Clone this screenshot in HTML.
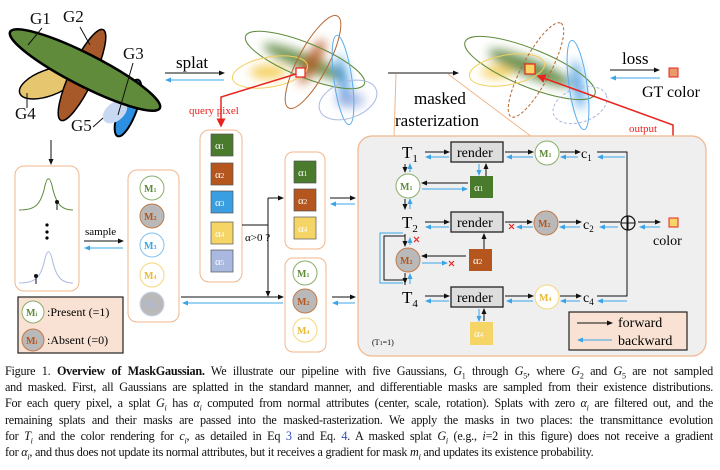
<!DOCTYPE html>
<html><head><meta charset="utf-8"><style>
body{margin:0;background:#fff;width:720px;height:470px;overflow:hidden}
.cap{position:absolute;left:5px;width:708px;font-family:"Liberation Serif",serif;font-size:12.2px;line-height:16.2px;color:#111;top:363px;letter-spacing:-0.25px}
.cap div{text-align:justify;text-align-last:justify;white-space:nowrap;height:16.2px}
.cap div.l{text-align-last:left}
</style></head><body>
<svg width="720" height="360" style="position:absolute;left:0;top:0" font-family="Liberation Serif, serif">
<defs>
<filter id="b" x="-50%" y="-50%" width="200%" height="200%"><feGaussianBlur stdDeviation="5"/></filter>
<marker id="ak" markerWidth="6" markerHeight="6" refX="5" refY="3" orient="auto"><path d="M0,0.5 L6,3 L0,5.5z" fill="#111"/></marker>
<marker id="ab" markerWidth="6" markerHeight="6" refX="5" refY="3" orient="auto"><path d="M0,0.5 L6,3 L0,5.5z" fill="#3aa4e8"/></marker>
<marker id="ar" markerWidth="6" markerHeight="6" refX="5" refY="3" orient="auto"><path d="M0,0 L6,3 L0,6z" fill="#e8231e"/></marker>
</defs>
<g>
<ellipse cx="128" cy="108" rx="30" ry="9" transform="rotate(-70 128 108)" fill="#2c8fe0" stroke="#000" stroke-width="2"/>
<ellipse cx="115" cy="112" rx="14" ry="9" transform="rotate(-40 115 112)" fill="#c8d8f3"/>
<ellipse cx="48" cy="83" rx="30" ry="13" transform="rotate(-20 48 83)" fill="#e6c66f" stroke="#000" stroke-width="1.5"/>
<ellipse cx="82" cy="75" rx="50" ry="12" transform="rotate(-65 82 75)" fill="#a8592a" stroke="#000" stroke-width="1.5"/>
<ellipse cx="85" cy="70" rx="84" ry="16" transform="rotate(27 85 70)" fill="#5f8b3b" stroke="#000" stroke-width="2.5"/>
</g>
<g font-size="17" fill="#111">
<text x="30" y="24">G1</text><text x="63" y="22">G2</text><text x="123" y="59">G3</text><text x="15" y="119">G4</text><text x="71" y="131">G5</text>
</g>
<g stroke="#111" stroke-width="1"><line x1="42" y1="28" x2="28" y2="45"/><line x1="80" y1="27" x2="90" y2="45"/><line x1="133" y1="63" x2="118" y2="115"/><line x1="27" y1="93" x2="27" y2="108"/><line x1="93" y1="127" x2="103" y2="118"/></g>
<text x="176" y="68" font-size="17">splat</text>
<line x1="165" y1="73" x2="224" y2="73" stroke="#111" marker-end="url(#ak)"/>
<line x1="224" y1="80" x2="166" y2="80" stroke="#3aa4e8" marker-end="url(#ab)"/>
<g filter="url(#b)">
<ellipse cx="305" cy="62" rx="45" ry="8" transform="rotate(22 305 62)" fill="#4d7a2c" opacity=".8"/>
<ellipse cx="268" cy="72" rx="18" ry="7" fill="#f3c63c" opacity=".8"/>
<ellipse cx="312" cy="62" rx="25" ry="7" transform="rotate(-62 312 62)" fill="#b5561f" opacity=".8"/>
<ellipse cx="343" cy="80" rx="25" ry="5" transform="rotate(80 343 80)" fill="#2c8fe0" opacity=".8"/>
<ellipse cx="350" cy="100" rx="15" ry="8" fill="#7f9ad8" opacity=".6"/>
</g>
<g fill="none" stroke-width="1">
<ellipse cx="305" cy="60" rx="64" ry="17" transform="rotate(22 305 60)" stroke="#5f8b3b"/>
<ellipse cx="270" cy="72" rx="38" ry="15" transform="rotate(-10 270 72)" stroke="#f2cf5e"/>
<ellipse cx="313" cy="62" rx="52" ry="15" transform="rotate(-62 313 62)" stroke="#b5662f"/>
<ellipse cx="343" cy="80" rx="45" ry="9" transform="rotate(82 343 80)" stroke="#5aacea"/>
<ellipse cx="348" cy="100" rx="30" ry="18" transform="rotate(-20 348 100)" stroke="#a9b8df"/>
</g>
<rect x="296" y="68" width="9" height="9" fill="#fff" stroke="#e8231e" stroke-width="1.2"/>
<polyline points="296,74 221,97 221,126" fill="none" stroke="#e8231e" stroke-width="1.5" marker-end="url(#ar)"/>
<text x="189" y="114" font-size="11" fill="#e8231e">query  pixel</text>
<line x1="396" y1="74" x2="394" y2="137" stroke="#f0b68b"/>
<line x1="448" y1="74" x2="532" y2="137" stroke="#f0b68b"/>
<line x1="388" y1="73" x2="458" y2="73" stroke="#111" marker-end="url(#ak)"/>
<g filter="url(#b)">
<ellipse cx="530" cy="68" rx="45" ry="9" transform="rotate(22 530 68)" fill="#4d7a2c" opacity=".8"/>
<ellipse cx="497" cy="72" rx="16" ry="6" fill="#f3c63c" opacity=".8"/>
<ellipse cx="578" cy="85" rx="25" ry="5" transform="rotate(82 578 85)" fill="#2c8fe0" opacity=".8"/>
</g>
<g fill="none" stroke-width="1">
<ellipse cx="530" cy="68" rx="70" ry="19" transform="rotate(22 530 68)" stroke="#5f8b3b"/>
<ellipse cx="507" cy="70" rx="38" ry="15" transform="rotate(-10 507 70)" stroke="#f2cf5e"/>
<ellipse cx="536" cy="70" rx="53" ry="14" transform="rotate(-62 536 70)" stroke="#b5662f" stroke-dasharray="3,2"/>
<ellipse cx="578" cy="85" rx="45" ry="9" transform="rotate(82 578 85)" stroke="#5aacea"/>
<ellipse cx="580" cy="105" rx="28" ry="17" transform="rotate(-20 580 105)" stroke="#a9b8df" stroke-dasharray="3,2"/>
</g>
<rect x="525" y="64" width="10" height="10" fill="#f5d566" stroke="#e8231e" stroke-width="1.2"/>
<polyline points="673,215 673,125 538,76" fill="none" stroke="#e8231e" stroke-width="1.5" marker-end="url(#ar)"/>
<text x="629" y="132" font-size="11" fill="#e8231e">output</text>
<text x="622" y="64" font-size="17">loss</text>
<line x1="610" y1="70" x2="659" y2="70" stroke="#111" marker-end="url(#ak)"/>
<line x1="660" y1="78" x2="611" y2="78" stroke="#3aa4e8" marker-end="url(#ab)"/>
<rect x="669" y="68" width="9" height="9" fill="#e89a6a" stroke="#e8231e"/>
<text x="642" y="97" font-size="16">GT color</text>
<text x="414" y="104" font-size="17">masked</text>
<text x="395" y="126" font-size="17">rasterization</text>
<line x1="51" y1="140" x2="51" y2="164" stroke="#111" marker-end="url(#ak)"/>
<rect x="15" y="166" width="64" height="125" rx="9" fill="#fff" stroke="#f0b68b"/>
<path d="M19,210 C35,210 40,205 44,190 C47,175 50,175 53,190 C57,205 62,210 73,210" fill="none" stroke="#5f8b3b"/>
<path d="M19,283 C35,283 40,278 44,263 C47,248 50,248 53,263 C57,278 62,283 73,283" fill="none" stroke="#a9b8df"/>
<circle cx="57" cy="202" r="2" fill="#111"/><line x1="57" y1="202" x2="57" y2="210" stroke="#111"/>
<circle cx="36" cy="276" r="2" fill="#111"/><line x1="36" y1="276" x2="36" y2="284" stroke="#111"/>
<circle cx="47" cy="225" r="1.6"/><circle cx="47" cy="232" r="1.6"/><circle cx="47" cy="238" r="1.6"/>
<text x="85" y="235" font-size="11">sample</text>
<line x1="84" y1="241" x2="123" y2="241" stroke="#111" marker-end="url(#ak)"/>
<line x1="123" y1="248" x2="85" y2="248" stroke="#3aa4e8" marker-end="url(#ab)"/>
<rect x="18" y="297" width="105" height="56" fill="#f9e2d3" stroke="#222" stroke-width="1.2"/>
<circle cx="33" cy="312" r="11" fill="#fff" stroke="#8aae6a"/><text x="26" y="316" font-size="10" fill="#5f8b3b" font-weight="bold">M<tspan font-size="6">i</tspan></text>
<text x="47" y="316" font-size="12">:Present (=1)</text>
<circle cx="33" cy="340" r="11" fill="#b9b9b9" stroke="#c07a4a"/><text x="26" y="344" font-size="10" fill="#b5561f" font-weight="bold">M<tspan font-size="6">i</tspan></text>
<text x="47" y="344" font-size="12">:Absent (=0)</text>
<rect x="128" y="170" width="51" height="152" rx="9" fill="#fff" stroke="#f0b68b"/>
<g font-size="10" font-weight="bold">
<circle cx="152" cy="188" r="12" fill="#fff" stroke="#8aae6a"/><text x="144" y="192" fill="#5f8b3b">M<tspan font-size="6">1</tspan></text>
<circle cx="152" cy="216" r="12" fill="#b9b9b9" stroke="#c07a4a"/><text x="144" y="220" fill="#b5561f">M<tspan font-size="6">2</tspan></text>
<circle cx="152" cy="245" r="12" fill="#fff" stroke="#7fc0ef"/><text x="144" y="249" fill="#3aa4e8">M<tspan font-size="6">3</tspan></text>
<circle cx="152" cy="275" r="12" fill="#fff" stroke="#f5d87a"/><text x="144" y="279" fill="#e9b93a">M<tspan font-size="6">4</tspan></text>
<circle cx="152" cy="304" r="12" fill="#b9b9b9" stroke="#c9d3ee"/><text x="144" y="308" fill="#a9b8df">M<tspan font-size="6">5</tspan></text>
</g>
<rect x="200" y="130" width="42" height="152" rx="9" fill="#fff" stroke="#f0b68b"/>
<g font-size="11" fill="#fff">
<rect x="211" y="134" width="22" height="22" fill="#4a7a2c" stroke="#555" stroke-width=".7"/><text x="215" y="149">α<tspan font-size="7">1</tspan></text>
<rect x="211" y="163" width="22" height="22" fill="#b5561f" stroke="#555" stroke-width=".7"/><text x="215" y="178">α<tspan font-size="7">2</tspan></text>
<rect x="211" y="191" width="22" height="22" fill="#3a9fe0" stroke="#555" stroke-width=".7"/><text x="215" y="206">α<tspan font-size="7">3</tspan></text>
<rect x="211" y="222" width="22" height="22" fill="#f5d566" stroke="#555" stroke-width=".7"/><text x="215" y="237">α<tspan font-size="7">4</tspan></text>
<rect x="211" y="250" width="22" height="22" fill="#a9b8df" stroke="#555" stroke-width=".7"/><text x="215" y="265">α<tspan font-size="7">5</tspan></text>
</g>
<text x="245" y="241" font-size="11">α&gt;0 ?</text>
<polyline points="242,225 268,225" fill="none" stroke="#111"/>
<line x1="268" y1="198" x2="268" y2="296" stroke="#111" marker-end="url(#ak)"/>
<line x1="268" y1="198" x2="283" y2="198" stroke="#111" marker-end="url(#ak)"/>
<line x1="181" y1="297" x2="283" y2="297" stroke="#111" marker-end="url(#ak)"/>
<line x1="283" y1="303" x2="183" y2="303" stroke="#3aa4e8" marker-end="url(#ab)"/>
<rect x="285" y="152" width="40" height="97" rx="8" fill="#fff" stroke="#f0b68b"/>
<g font-size="11" fill="#fff">
<rect x="294" y="161" width="22" height="22" fill="#4a7a2c" stroke="#555" stroke-width=".7"/><text x="298" y="176">α<tspan font-size="7">1</tspan></text>
<rect x="294" y="189" width="22" height="22" fill="#b5561f" stroke="#555" stroke-width=".7"/><text x="298" y="204">α<tspan font-size="7">2</tspan></text>
<rect x="294" y="217" width="22" height="22" fill="#f5d566" stroke="#555" stroke-width=".7"/><text x="298" y="232">α<tspan font-size="7">4</tspan></text>
</g>
<rect x="285" y="258" width="41" height="94" rx="8" fill="#fff" stroke="#f0b68b"/>
<g font-size="10" font-weight="bold">
<circle cx="305" cy="273" r="12" fill="#fff" stroke="#8aae6a"/><text x="297" y="277" fill="#5f8b3b">M<tspan font-size="6">1</tspan></text>
<circle cx="305" cy="301" r="12" fill="#b9b9b9" stroke="#c07a4a"/><text x="297" y="305" fill="#b5561f">M<tspan font-size="6">2</tspan></text>
<circle cx="305" cy="330" r="12" fill="#fff" stroke="#f5d87a"/><text x="297" y="334" fill="#e9b93a">M<tspan font-size="6">4</tspan></text>
</g>
<line x1="330" y1="198" x2="355" y2="198" stroke="#111" marker-end="url(#ak)"/>
<line x1="355" y1="204" x2="331" y2="204" stroke="#3aa4e8" marker-end="url(#ab)"/>
<line x1="332" y1="297" x2="355" y2="297" stroke="#111" marker-end="url(#ak)"/>
<line x1="355" y1="303" x2="333" y2="303" stroke="#3aa4e8" marker-end="url(#ab)"/>
<rect x="358" y="136" width="348" height="220" rx="14" fill="#efefef" stroke="#f0b68b" stroke-width="1.2"/>
<g font-size="17"><text x="402" y="158">T<tspan font-size="11" dy="4">1</tspan></text><text x="402" y="228">T<tspan font-size="11" dy="4">2</tspan></text><text x="402" y="303">T<tspan font-size="11" dy="4">4</tspan></text></g>
<g font-size="14">
<rect x="451" y="142" width="52" height="20" fill="#ddd" stroke="#222" stroke-width="1.3"/><text x="457" y="157">render</text>
<rect x="451" y="212" width="52" height="20" fill="#ddd" stroke="#222" stroke-width="1.3"/><text x="457" y="227">render</text>
<rect x="451" y="287" width="52" height="20" fill="#ddd" stroke="#222" stroke-width="1.3"/><text x="457" y="302">render</text>
</g>
<g font-size="10" font-weight="bold">
<circle cx="547" cy="153" r="12" fill="#fff" stroke="#8aae6a"/><text x="539" y="157" fill="#5f8b3b">M<tspan font-size="6">1</tspan></text>
<circle cx="546" cy="223" r="12" fill="#b9b9b9" stroke="#c07a4a"/><text x="538" y="227" fill="#b5561f">M<tspan font-size="6">2</tspan></text>
<circle cx="547" cy="297" r="12" fill="#fff" stroke="#f5d87a"/><text x="539" y="301" fill="#e9b93a">M<tspan font-size="6">4</tspan></text>
<circle cx="408" cy="186" r="12" fill="#fff" stroke="#8aae6a"/><text x="400" y="190" fill="#5f8b3b">M<tspan font-size="6">1</tspan></text>
<circle cx="408" cy="260" r="12" fill="#b9b9b9" stroke="#c07a4a"/><text x="400" y="264" fill="#b5561f">M<tspan font-size="6">2</tspan></text>
</g>
<g font-size="11" fill="#fff">
<rect x="470" y="176" width="23" height="22" fill="#4a7a2c"/><text x="474" y="191">α<tspan font-size="7">1</tspan></text>
<rect x="469" y="249" width="23" height="22" fill="#b5561f"/><text x="473" y="264">α<tspan font-size="7">2</tspan></text>
<rect x="470" y="322" width="23" height="23" fill="#f5d566"/><text x="474" y="337">α<tspan font-size="7">4</tspan></text>
</g>
<g font-size="14"><text x="581" y="158">c<tspan font-size="9" dy="3">1</tspan></text><text x="583" y="229">c<tspan font-size="9" dy="3">2</tspan></text><text x="583" y="302">c<tspan font-size="9" dy="3">4</tspan></text></g>
<g stroke="#111" stroke-width="1">
<line x1="425" y1="152" x2="449" y2="152" marker-end="url(#ak)"/><line x1="425" y1="222" x2="449" y2="222" marker-end="url(#ak)"/><line x1="425" y1="296" x2="449" y2="296" marker-end="url(#ak)"/>
<line x1="505" y1="152" x2="533" y2="152" marker-end="url(#ak)"/><line x1="505" y1="222" x2="532" y2="222" marker-end="url(#ak)"/><line x1="505" y1="296" x2="533" y2="296" marker-end="url(#ak)"/>
<line x1="560" y1="152" x2="580" y2="152" marker-end="url(#ak)"/><line x1="559" y1="222" x2="581" y2="222" marker-end="url(#ak)"/><line x1="560" y1="296" x2="581" y2="296" marker-end="url(#ak)"/>
<polyline points="597,152 627,152 627,296 597,296" fill="none"/>
<line x1="600" y1="222" x2="620" y2="222"/>
<line x1="638" y1="222" x2="660" y2="222" marker-end="url(#ak)"/>
<line x1="486" y1="176" x2="486" y2="164" marker-end="url(#ak)"/><line x1="484" y1="249" x2="484" y2="234" marker-end="url(#ak)"/><line x1="484" y1="321" x2="484" y2="309" marker-end="url(#ak)"/>
<line x1="468" y1="183" x2="422" y2="183" marker-end="url(#ak)"/><line x1="466" y1="256" x2="422" y2="256" marker-end="url(#ak)"/>
<line x1="405" y1="164" x2="405" y2="172" marker-end="url(#ak)"/><line x1="405" y1="199" x2="405" y2="209" marker-end="url(#ak)"/><line x1="405" y1="234" x2="405" y2="246" marker-end="url(#ak)"/><line x1="405" y1="273" x2="405" y2="283" marker-end="url(#ak)"/>
<polyline points="405,236 384,236 384,280 405,280 405,285" fill="none"/>
</g>
<circle cx="628" cy="223" r="7" fill="none" stroke="#111" stroke-width="1.2"/><line x1="621" y1="223" x2="635" y2="223" stroke="#111"/><line x1="628" y1="216" x2="628" y2="230" stroke="#111"/>
<g stroke="#3aa4e8" stroke-width="1">
<line x1="449" y1="157" x2="426" y2="157" marker-end="url(#ab)"/><line x1="449" y1="227" x2="426" y2="227" marker-end="url(#ab)"/><line x1="449" y1="301" x2="426" y2="301" marker-end="url(#ab)"/>
<line x1="533" y1="157" x2="507" y2="157" marker-end="url(#ab)"/><line x1="533" y1="227" x2="517" y2="227" marker-end="url(#ab)"/><line x1="533" y1="301" x2="507" y2="301" marker-end="url(#ab)"/>
<line x1="578" y1="157" x2="561" y2="157" marker-end="url(#ab)"/><line x1="580" y1="227" x2="560" y2="227" marker-end="url(#ab)"/><line x1="580" y1="301" x2="561" y2="301" marker-end="url(#ab)"/>
<line x1="625" y1="157" x2="598" y2="157" marker-end="url(#ab)"/><line x1="618" y1="227" x2="600" y2="227" marker-end="url(#ab)"/><line x1="627" y1="301" x2="598" y2="301" marker-end="url(#ab)"/>
<line x1="660" y1="227" x2="640" y2="227" marker-end="url(#ab)"/>
<line x1="479" y1="164" x2="479" y2="175" marker-end="url(#ab)"/><line x1="479" y1="309" x2="479" y2="321" marker-end="url(#ab)"/>
<line x1="422" y1="189" x2="467" y2="189" marker-end="url(#ab)"/><line x1="422" y1="263" x2="447" y2="263" marker-end="url(#ab)"/>
<line x1="410" y1="172" x2="410" y2="164" marker-end="url(#ab)"/><line x1="410" y1="209" x2="410" y2="199" marker-end="url(#ab)"/><line x1="410" y1="245" x2="410" y2="238" marker-end="url(#ab)"/><line x1="410" y1="284" x2="410" y2="274" marker-end="url(#ab)"/>
<polyline points="403,283 380,283 380,233 403,233" fill="none"/>
</g>
<g stroke="#e8231e" stroke-width="1.2"><path d="M509,224l5,5m0,-5l-5,5"/><path d="M414,237l5,5m0,-5l-5,5"/><path d="M449,261l5,5m0,-5l-5,5"/></g>
<rect x="669" y="218" width="9" height="9" fill="#f5d566" stroke="#e8231e"/>
<text x="653" y="245" font-size="14">color</text>
<rect x="569" y="312" width="118" height="38" fill="#f9e2d3" stroke="#222" stroke-width="1.2"/>
<line x1="577" y1="323" x2="612" y2="323" stroke="#111" marker-end="url(#ak)"/><text x="618" y="327" font-size="14">forward</text>
<line x1="612" y1="340" x2="578" y2="340" stroke="#3aa4e8" marker-end="url(#ab)"/><text x="618" y="345" font-size="14">backward</text>
<text x="372" y="345" font-size="8">(T<tspan font-size="6">1</tspan>=1)</text>
</svg>
<div class="cap">
<div>Figure 1. <b>Overview of MaskGaussian.</b> We illustrate our pipeline with five Gaussians, <i>G</i><sub style="font-size:8px">1</sub> through <i>G</i><sub style="font-size:8px">5</sub>, where <i>G</i><sub style="font-size:8px">2</sub> and <i>G</i><sub style="font-size:8px">5</sub> are not sampled</div>
<div>and masked. First, all Gaussians are splatted in the standard manner, and differentiable masks are sampled from their existence distributions.</div>
<div>For each query pixel, a splat <i>G<sub style="font-size:8px">i</sub></i> has <i>α<sub style="font-size:8px">i</sub></i> computed from normal attributes (center, scale, rotation). Splats with zero <i>α<sub style="font-size:8px">i</sub></i> are filtered out, and the</div>
<div>remaining splats and their masks are passed into the masked-rasterization. We apply the masks in two places: the transmittance evolution</div>
<div>for <i>T<sub style="font-size:8px">i</sub></i> and the color rendering for <i>c<sub style="font-size:8px">i</sub></i>, as detailed in Eq <span style="color:#3050c0">3</span> and Eq. <span style="color:#3050c0">4</span>. A masked splat <i>G<sub style="font-size:8px">i</sub></i> (e.g., <i>i</i>=2 in this figure) does not receive a gradient</div>
<div class="l">for <i>α<sub style="font-size:8px">i</sub></i>, and thus does not update its normal attributes, but it receives a gradient for mask <i>m<sub style="font-size:8px">i</sub></i> and updates its existence probability.</div>
</div>
</body></html>
